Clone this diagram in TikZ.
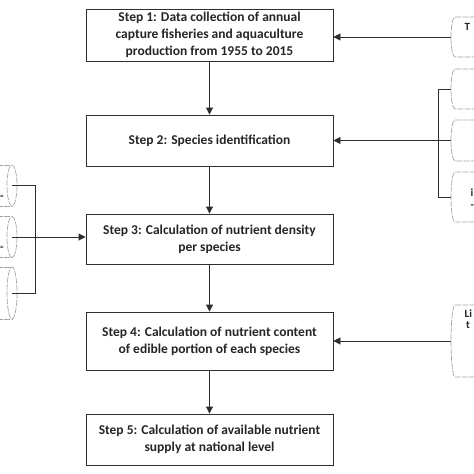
\documentclass[tikz,border=0pt]{standalone}
\usepackage{fontspec}
\setmainfont{Carlito}
\usetikzlibrary{arrows.meta}
\definecolor{linec}{RGB}{45,45,45}
\definecolor{cylc}{RGB}{165,165,165}
\tikzset{
  stepbox/.style={draw=linec, line width=0.9pt, minimum width=247pt, align=center, inner sep=0pt,
     font=\bfseries\fontsize{13.5pt}{17pt}\selectfont, text=black!85},
  conn/.style={draw=linec, line width=0.9pt},
  arr/.style={conn, -{Triangle[width=7pt,length=7pt]}},
  cyl/.style={draw=cylc, line width=0.7pt, dash pattern=on 6pt off 1.2pt},
  cyltext/.style={font=\bfseries\fontsize{11pt}{12pt}\selectfont, text=black!85, inner sep=0pt, anchor=west}
}
\begin{document}
\begin{tikzpicture}[x=1pt,y=-1pt]
\useasboundingbox (0,0) rectangle (474,474);
\clip (0,0) rectangle (474,474);
\fill[white] (0,0) rectangle (474,474);
% step boxes
\node[stepbox, minimum height=52pt] (s1) at (209.5,35) {Step 1: Data collection of annual\\capture fisheries and aquaculture\\production from 1955 to 2015};
\node[stepbox, minimum height=51pt] (s2) at (209.5,140.5) {Step 2: Species identification};
\node[stepbox, minimum height=50pt] (s3) at (209.5,239) {Step 3: Calculation of nutrient density\\per species};
\node[stepbox, minimum height=58pt] (s4) at (209.5,341) {Step 4: Calculation of nutrient content\\of edible portion of each species};
\node[stepbox, minimum height=51pt] (s5) at (209.5,439.5) {Step 5: Calculation of available nutrient\\supply at national level};
% vertical arrows
\draw[arr] (s1.south) -- (s2.north);
\draw[arr] (s2.south) -- (s3.north);
\draw[arr] (s3.south) -- (s4.north);
\draw[arr] (s4.south) -- (s5.north);
% right cylinders (left ends visible)
\foreach \n/\t/\b in {r1/17/57, r2/69/109, r3/120/161, r4/172/222, r5/305/377}{
  \pgfmathsetmacro{\m}{(\t+\b)/2}
  \pgfmathsetmacro{\k}{(\b-\t)/2*0.552}
  \draw[cyl] (490,\t) -- (455,\t) .. controls (452.8,\t) and (451,\m-\k) .. (451,\m)
        .. controls (451,\m+\k) and (452.8,\b) .. (455,\b) -- (490,\b);
  \coordinate (\n) at (451,\m);
}
\node[cyltext] (tr1) at (464.5,27) {T};
\node[cyltext] (tr4a) at (470.5,193) {i};
\node[cyltext] (tr4b) at (470.5,207) {-};
\node[cyltext] (tr5a) at (464.5,314) {Li};
\node[cyltext] (tr5b) at (466,325) {t};
% left cylinders (right ends visible)
\foreach \n/\t/\b in {l1/165/206, l2/216.5/257.5, l3/267/319}{
  \pgfmathsetmacro{\m}{(\t+\b)/2}
  \pgfmathsetmacro{\r}{(\b-\t)/2}
  \draw[cyl] (-10,\t) -- (12,\t);
  \draw[cyl] (-10,\b) -- (12,\b);
  \draw[cyl] (12,\m) ellipse [x radius=5, y radius=\r];
  \coordinate (\n) at (12,\m);
}
\node[cyltext, anchor=west, font=\bfseries\fontsize{7pt}{8pt}\selectfont] (tl1) at (0,197) {=};
\node[cyltext, anchor=west, font=\bfseries\fontsize{7pt}{8pt}\selectfont] (tl2) at (0,248) {=};
% right connectors
\draw[arr] (r1) -- (r1 -| s1.east);
\draw[conn] (r2) -- (438,89) |- (r4);
\draw[arr] (r3) -- (r3 -| s2.east);
\draw[arr] (r5) -- (r5 -| s4.east);
% left connectors
\draw[conn] (l1) -- (35,185.5) |- (l3);
\draw[arr] (l2) -- (l2 -| s3.west);
\end{tikzpicture}
\end{document}
